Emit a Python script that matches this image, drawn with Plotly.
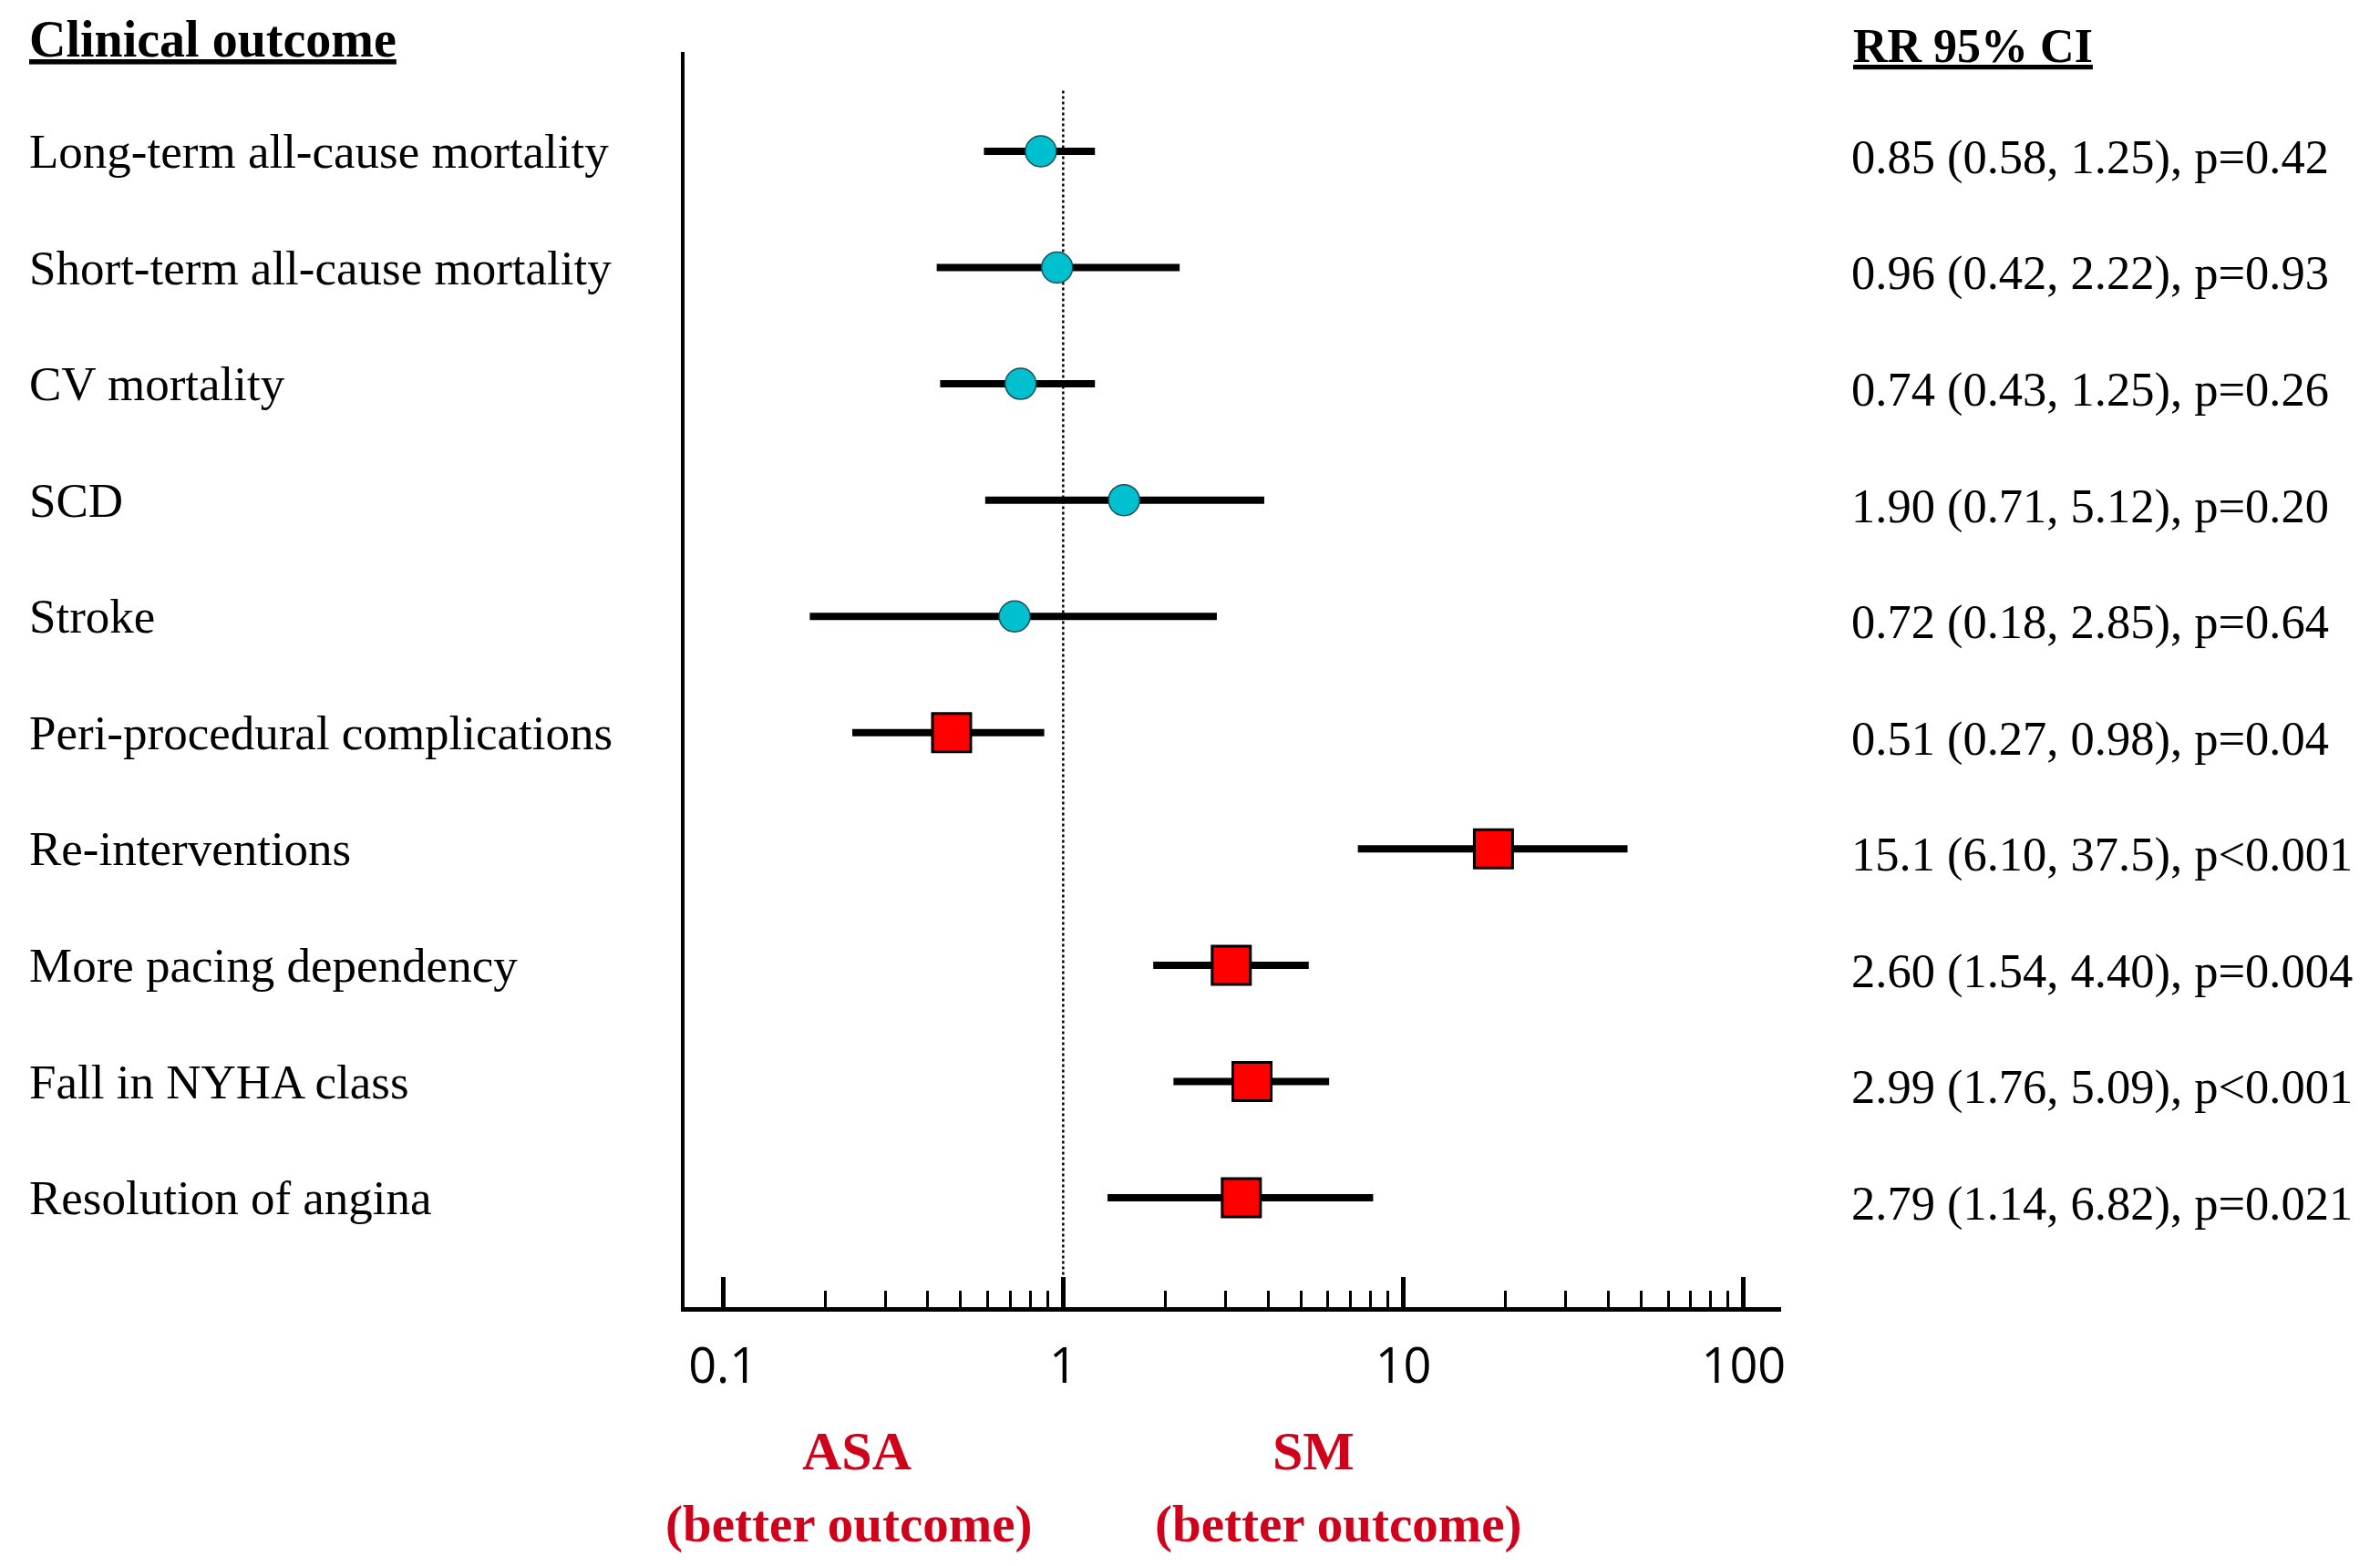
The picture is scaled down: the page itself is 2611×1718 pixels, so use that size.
"""Forest plot: clinical outcomes, ASA vs SM (risk ratios, log scale)."""

import plotly.graph_objects as go

# Outcomes, top to bottom
outcomes = [
    "Long-term all-cause mortality",
    "Short-term all-cause mortality",
    "CV mortality",
    "SCD",
    "Stroke",
    "Peri-procedural complications",
    "Re-interventions",
    "More pacing dependency",
    "Fall in NYHA class",
    "Resolution of angina",
]

# Plotted estimate and interval ends (as drawn)
rr_point = [0.86, 0.96, 0.75, 1.51, 0.72, 0.47, 18.4, 3.12, 3.59, 3.34]
ci_low = [0.585, 0.425, 0.435, 0.59, 0.18, 0.24, 7.35, 1.84, 2.11, 1.35]
ci_high = [1.24, 2.2, 1.24, 3.9, 2.83, 0.88, 45.6, 5.27, 6.05, 8.15]

# Which marker each row uses
is_significant = [False, False, False, False, False, True, True, True, True, True]

# Column of printed results
rr_text = [
    "0.85 (0.58, 1.25), p=0.42",
    "0.96 (0.42, 2.22), p=0.93",
    "0.74 (0.43, 1.25), p=0.26",
    "1.90 (0.71, 5.12), p=0.20",
    "0.72 (0.18, 2.85), p=0.64",
    "0.51 (0.27, 0.98), p=0.04",
    "15.1 (6.10, 37.5), p<0.001",
    "2.60 (1.54, 4.40), p=0.004",
    "2.99 (1.76, 5.09), p<0.001",
    "2.79 (1.14, 6.82), p=0.021",
]

# Axis ticks
major_ticks = [0.1, 1, 10, 100]
major_labels = ["0.1", "1", "10", "100"]
minor_ticks = [0.2, 0.3, 0.4, 0.5, 0.6, 0.7, 0.8, 0.9,
               2, 3, 4, 5, 6, 7, 8, 9,
               20, 30, 40, 50, 60, 70, 80, 90]

# page body has an 8px margin, so the figure sits 8px in from the corner
OFF = 8
W, H = 2611 - 2 * OFF, 1718 - 2 * OFF
SERIF = "Liberation Serif, Times New Roman, serif"
RED_TXT = "#D0021B"


def px(x):
    return (x - OFF) / W


def py(y):
    return 1 - (y - OFF) / H


rows = list(range(len(outcomes)))


def pick(values, flags, want):
    return [v for v, f in zip(values, flags) if f == want]


fig = go.Figure()

# Reference line at RR = 1
fig.add_trace(go.Scatter(
    x=[1, 1], y=[-0.52, 9.94],
    mode="lines",
    line={"color": "black", "width": 2.5, "dash": "dot"},
    hoverinfo="skip",
    showlegend=False,
))

for want, symbol, size, color, line in [
    (False, "circle", 34, "#00BFCF", {"color": "#1d4f55", "width": 1.5}),
    (True, "square", 42, "#FF0000", {"color": "black", "width": 3}),
]:
    x = pick(rr_point, is_significant, want)
    lo = pick(ci_low, is_significant, want)
    hi = pick(ci_high, is_significant, want)
    fig.add_trace(go.Scatter(
        x=x,
        y=pick(rows, is_significant, want),
        mode="markers",
        marker={"symbol": symbol, "size": size, "color": color, "line": line},
        error_x={
            "type": "data",
            "symmetric": False,
            "array": [h - p for h, p in zip(hi, x)],
            "arrayminus": [p - l for p, l in zip(x, lo)],
            "thickness": 8,
            "width": 0,
            "color": "black",
        },
        showlegend=False,
    ))

annotations = []
for i, (name, txt) in enumerate(zip(outcomes, rr_text)):
    annotations.append(dict(
        x=px(30), xref="paper", xanchor="left",
        y=i, yref="y", yanchor="middle",
        text=name, showarrow=False,
        font={"family": SERIF, "size": 53, "color": "black"},
    ))
    annotations.append(dict(
        x=px(2033), xref="paper", xanchor="left",
        y=i + 0.05, yref="y", yanchor="middle",
        text=txt, showarrow=False,
        font={"family": SERIF, "size": 52.5, "color": "black"},
    ))

# Column headers
annotations.append(dict(
    x=px(30), xref="paper", xanchor="left",
    y=py(43), yref="paper", yanchor="middle",
    text="<b><u>Clinical outcome</u></b>", showarrow=False,
    font={"family": SERIF, "size": 56, "color": "black"},
))
annotations.append(dict(
    x=px(2035), xref="paper", xanchor="left",
    y=py(50), yref="paper", yanchor="middle",
    text="<b><u>RR 95% CI</u></b>", showarrow=False,
    font={"family": SERIF, "size": 52, "color": "black"},
))

# Direction labels under the axis
for cx, label in [(942, "ASA"), (1444, "SM")]:
    annotations.append(dict(
        x=px(cx), xref="paper", xanchor="center",
        y=py(1592), yref="paper", yanchor="middle",
        text=f"<b>{label}</b>", showarrow=False,
        font={"family": SERIF, "size": 60, "color": RED_TXT},
    ))
for cx in [933, 1471]:
    annotations.append(dict(
        x=px(cx), xref="paper", xanchor="center",
        y=py(1672), yref="paper", yanchor="middle",
        text="<b>(better outcome)</b>", showarrow=False,
        font={"family": SERIF, "size": 57, "color": RED_TXT},
    ))

fig.update_layout(
    width=W,
    height=H,
    margin={"l": 0, "r": 0, "t": 0, "b": 0},
    paper_bgcolor="white",
    plot_bgcolor="white",
    annotations=annotations,
    xaxis={
        "type": "log",
        "domain": [px(752), px(1958)],
        "range": [-1.114, 2.111],
        "showgrid": False,
        "zeroline": False,
        "showline": True,
        "linecolor": "black",
        "linewidth": 5,
        "ticks": "inside",
        "ticklen": 33,
        "tickwidth": 5,
        "tickcolor": "black",
        "tickmode": "array",
        "tickvals": major_ticks,
        "ticktext": major_labels,
        "ticklabelstandoff": 13,
        "tickfont": {"family": "Open Sans", "size": 54, "color": "black"},
        "minor": {
            "tickvals": minor_ticks,
            "ticks": "inside",
            "ticklen": 18,
            "tickwidth": 2.5,
            "tickcolor": "black",
            "showgrid": False,
        },
    },
    yaxis={
        "domain": [py(1434), py(57)],
        "range": [9.94, -0.854],
        "showgrid": False,
        "zeroline": False,
        "showline": True,
        "linecolor": "black",
        "linewidth": 4,
        "showticklabels": False,
        "ticks": "",
    },
)

fig.write_html("out.html")
